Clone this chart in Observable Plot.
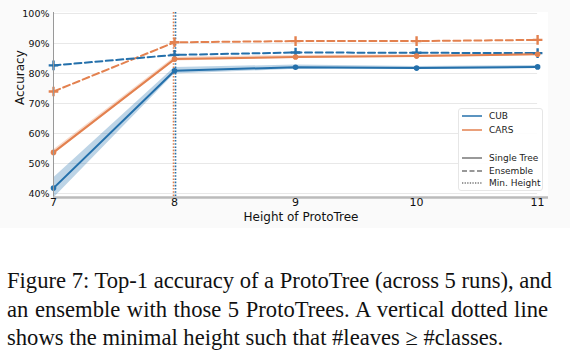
<!DOCTYPE html>
<html><head><meta charset="utf-8">
<script src="https://cdn.jsdelivr.net/npm/d3@7"></script>
<script src="https://cdn.jsdelivr.net/npm/@observablehq/plot@0.6"></script>
<style>
body{margin:0;background:#fff;width:570px;height:354px;overflow:hidden;position:relative}
#chart{position:absolute;left:0;top:0}
#legend{position:absolute;left:458px;top:108px;width:85px;height:83px;border:1px solid #e6e6e6;border-radius:3px;background:rgba(255,255,255,0.9);font:9px "DejaVu Sans";color:#222;box-sizing:border-box}
.lr{position:absolute;left:3px;height:10px;display:flex;align-items:center}
.lr svg{width:20px;height:6px;margin-right:7px}
#caption{position:absolute;left:7px;top:267px;width:541px;font:22.6px "Liberation Serif";color:#111;line-height:28.6px}
.j{text-align:justify;text-align-last:justify;white-space:nowrap}
</style></head><body>
<div id="chart"></div>
<div id="legend"></div>
<div id="caption"></div>
<script>
const heights = [7, 8, 9, 10, 11];
const cubSingle = [41.8, 80.9, 82.1, 81.8, 82.2];
const cubSingleStd = [3.4, 1.1, 0.7, 0.5, 0.5];
const cubEnsemble = [82.7, 86.2, 87.0, 86.9, 86.8];
const carsSingle = [53.7, 84.8, 85.5, 85.8, 86.4];
const carsSingleStd = [0.8, 0.6, 0.5, 0.4, 0.4];
const carsEnsemble = [74.0, 90.4, 90.8, 90.8, 91.2];
const minHeight = 8;
const yTicks = [40, 50, 60, 70, 80, 90, 100];
const datasets = ["CUB", "CARS"];
const styles = ["Single Tree", "Ensemble", "Min. Height"];
const captionLines = [
  "Figure 7: Top-1 accuracy of a ProtoTree (across 5 runs), and",
  "an ensemble with those 5 ProtoTrees.  A vertical dotted line",
  "shows the minimal height such that #leaves \u2265 #classes."
];

const blue = "#2470ab", orange = "#e3814f";
const colors = {CUB: blue, CARS: orange};

const rows = [];
heights.forEach((h, i) => {
  rows.push({h, ds: "CUB", single: cubSingle[i], lo: cubSingle[i] - cubSingleStd[i], hi: cubSingle[i] + cubSingleStd[i], ens: cubEnsemble[i]});
  rows.push({h, ds: "CARS", single: carsSingle[i], lo: carsSingle[i] - carsSingleStd[i], hi: carsSingle[i] + carsSingleStd[i], ens: carsEnsemble[i]});
});
const cub = rows.filter(d => d.ds === "CUB");
const cars = rows.filter(d => d.ds === "CARS");

const chart = Plot.plot({
  width: 570, height: 228,
  marginLeft: 53, marginRight: 22, marginTop: 12, marginBottom: 31,
  style: {fontFamily: "DejaVu Sans", background: "#fafafa", color: "#111"},
  x: {domain: [7, 11.09], ticks: heights, label: null},
  y: {domain: [38.67, 100.33], label: null},
  marks: [
    Plot.rect([0], {x1: 7, x2: 11.09, y1: 38.67, y2: 100.33, fill: "white"}),
    Plot.gridY(yTicks, {x1: 7, x2: 11, stroke: "#e8e8e8", strokeOpacity: 1, strokeWidth: 1}),
    Plot.areaY(cub, {x: "h", y1: "lo", y2: "hi", fill: blue, fillOpacity: 0.3, clip: true}),
    Plot.areaY(cars, {x: "h", y1: "lo", y2: "hi", fill: orange, fillOpacity: 0.3, clip: true}),
    Plot.ruleX([minHeight], {stroke: orange, strokeWidth: 1.6, strokeDasharray: "1.6,1.6", dx: -1}),
    Plot.ruleX([minHeight], {stroke: blue, strokeWidth: 1.6, strokeDasharray: "1.6,1.6", dx: 1}),
    Plot.lineY(cars, {x: "h", y: "ens", stroke: orange, strokeWidth: 2, strokeDasharray: "7,3.5"}),
    Plot.lineY(cub, {x: "h", y: "ens", stroke: blue, strokeWidth: 2, strokeDasharray: "7,3.5"}),
    Plot.lineY(cars, {x: "h", y: "single", stroke: orange, strokeWidth: 2}),
    Plot.lineY(cub, {x: "h", y: "single", stroke: blue, strokeWidth: 2, clip: true}),
    Plot.dot(cars, {x: "h", y: "ens", symbol: "plus", r: 3.2, stroke: orange, strokeWidth: 2.4}),
    Plot.dot(cub, {x: "h", y: "ens", symbol: "plus", r: 3.2, stroke: blue, strokeWidth: 2.4}),
    Plot.dot(cars, {x: "h", y: "single", r: 2.8, fill: orange}),
    Plot.dot(cub, {x: "h", y: "single", r: 2.8, fill: blue}),
    Plot.ruleX([7], {stroke: "#999", strokeWidth: 1}),
    Plot.ruleY([38.67], {x1: 7, x2: 11.09, stroke: "#bbb", strokeWidth: 2.5}),
    Plot.axisX(heights, {tickSize: 0, tickPadding: 1, fontSize: 11, fill: "#111", tickFormat: d3.format("d"), label: null}),
    Plot.axisY(yTicks, {tickSize: 0, tickPadding: 4, fontSize: 9.5, fill: "#111", tickFormat: d => d + "%", label: null}),
    Plot.text(["Height of ProtoTree"], {frameAnchor: "bottom", dy: 23, fontSize: 12, fill: "#111"}),
    Plot.text(["Accuracy"], {frameAnchor: "left", dx: -33, rotate: -90, fontSize: 12, fill: "#111"})
  ]
});
document.getElementById("chart").append(chart);

// legend
const lg = document.getElementById("legend");
const entries = [
  {label: datasets[0], color: colors.CUB, dash: null, top: 2},
  {label: datasets[1], color: colors.CARS, dash: null, top: 16},
  {label: styles[0], color: "#777", dash: null, top: 44},
  {label: styles[1], color: "#777", dash: "5,2.5", top: 57},
  {label: styles[2], color: "#777", dash: "1.3,1.3", top: 69}
];
for (const e of entries) {
  const r = document.createElement("div");
  r.className = "lr"; r.style.top = e.top + "px";
  r.innerHTML = `<svg><line x1="0" x2="20" y1="3" y2="3" stroke="${e.color}" stroke-width="1.5" ${e.dash ? `stroke-dasharray="${e.dash}"` : ""}/></svg><span>${e.label}</span>`;
  lg.append(r);
}

// caption
const cap = document.getElementById("caption");
captionLines.forEach((t, i) => {
  const d = document.createElement("div");
  if (i < 2) d.className = "j";
  d.textContent = t;
  cap.append(d);
});
</script>
</body></html>
